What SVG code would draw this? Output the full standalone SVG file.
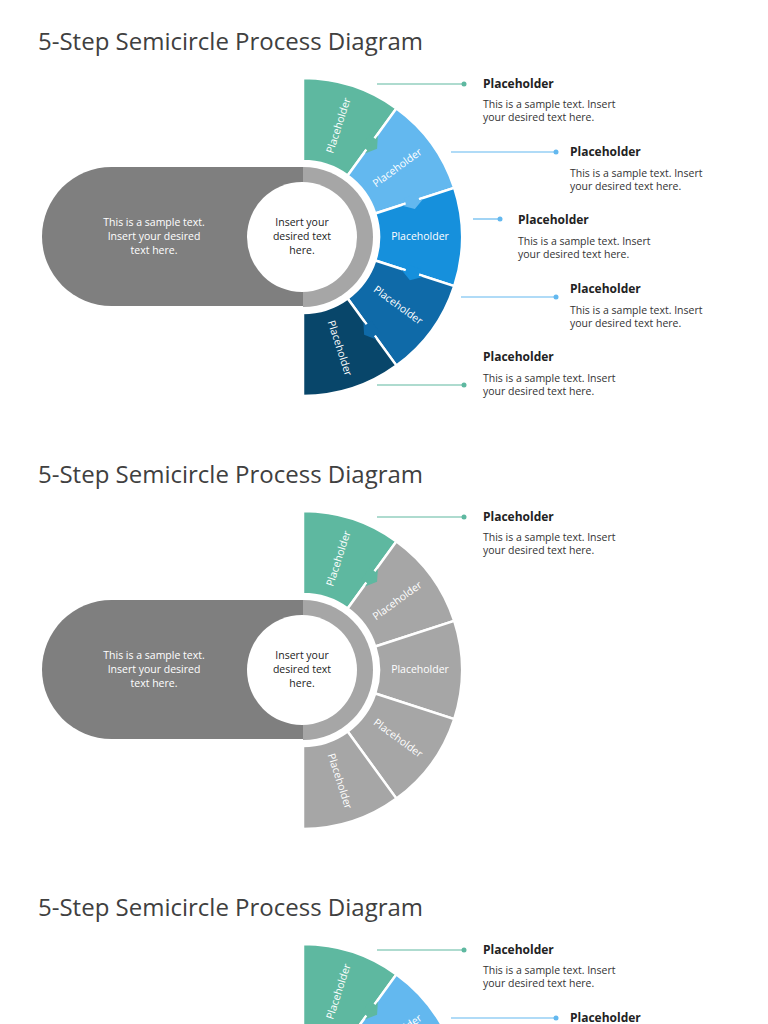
<svg xmlns="http://www.w3.org/2000/svg" xmlns:xlink="http://www.w3.org/1999/xlink" width="768" height="1024" viewBox="0 0 768 1024">
<style>
text{font-family:"Open Sans","Liberation Sans",sans-serif}
.title{font-size:24px;fill:#404040}
.seg{stroke:#fff;stroke-width:2.5}
.st{font-size:10.5px;fill:#fff;text-anchor:middle;dominant-baseline:middle}
.pt{font-size:10.5px;fill:#fff;text-anchor:middle}
.ct{font-size:10.5px;fill:#222;text-anchor:middle}
.lh{font-size:12px;font-weight:bold;fill:#222}
.ld{font-size:10.5px;fill:#333}
.ln{stroke-width:1.2;fill:none}
</style>
<defs>
<path id="s1" d="M303 161 L303 78 A159 159 0 0 1 396.46 108.37 L347.67 175.52 A76 76 0 0 0 303 161 Z"/>
<path id="s2" d="M347.67 175.52 L396.46 108.37 A159 159 0 0 1 454.22 187.87 L375.28 213.52 A76 76 0 0 0 347.67 175.52 Z"/>
<path id="s3" d="M375.28 213.52 L454.22 187.87 A159 159 0 0 1 454.22 286.13 L375.28 260.48 A76 76 0 0 0 375.28 213.52 Z"/>
<path id="s4" d="M375.28 260.48 L454.22 286.13 A159 159 0 0 1 396.46 365.63 L347.67 298.48 A76 76 0 0 0 375.28 260.48 Z"/>
<path id="s5" d="M347.67 298.48 L396.46 365.63 A159 159 0 0 1 303 396 L303 313 A76 76 0 0 0 347.67 298.48 Z"/>
<polygon id="tab" points="108,-6 122,-6 122,1 126,1 115,8 104,1 108,1"/>
<g id="hub">
<path d="M303 167 H111.5 A69.5 69.5 0 0 0 111.5 306 H303 Z" fill="#7f7f7f"/>
<path d="M303 167 A70 70 0 0 1 303 307 Z" fill="#a6a6a6"/>
<circle cx="302" cy="237" r="55" fill="#fff"/>
<text class="pt" x="154" y="226">This is a sample text.</text>
<text class="pt" x="154" y="240">Insert your desired</text>
<text class="pt" x="154" y="254">text here.</text>
<text class="ct" x="302" y="226">Insert your</text>
<text class="ct" x="302" y="240">desired text</text>
<text class="ct" x="302" y="254">here.</text>
</g>
<g id="labels">
<text class="st" transform="translate(303,237) rotate(-72) translate(117,0)">Placeholder</text>
<text class="st" transform="translate(303,237) rotate(-36) translate(117,0)">Placeholder</text>
<text class="st" transform="translate(303,237) translate(117,0)">Placeholder</text>
<text class="st" transform="translate(303,237) rotate(36) translate(117,0)">Placeholder</text>
<text class="st" transform="translate(303,237) rotate(72) translate(117,0)">Placeholder</text>
</g>
</defs>

<!-- Diagram 1 -->
<g id="diagram1">
<text class="title" x="38" y="50">5-Step Semicircle Process Diagram</text>
<g id="d1-hub"><use xlink:href="#hub"/></g>
<g id="d1-seg1"><use xlink:href="#s1" class="seg" fill="#5eb8a0"/></g>
<g id="d1-seg2"><use xlink:href="#s2" class="seg" fill="#63b8ef"/></g>
<g id="d1-seg3"><use xlink:href="#s3" class="seg" fill="#1690dc"/></g>
<g id="d1-seg4"><use xlink:href="#s4" class="seg" fill="#0f6aa8"/></g>
<g id="d1-seg5"><use xlink:href="#s5" class="seg" fill="#08466a"/></g>
<use xlink:href="#tab" fill="#5eb8a0" transform="translate(303,237) rotate(-54)"/>
<use xlink:href="#tab" fill="#63b8ef" transform="translate(303,237) rotate(-18)"/>
<use xlink:href="#tab" fill="#1690dc" transform="translate(303,237) rotate(18)"/>
<use xlink:href="#tab" fill="#0f6aa8" transform="translate(303,237) rotate(54)"/>
<use xlink:href="#labels"/>
<g id="d1-connectors">
<line class="ln" x1="377" y1="84" x2="464" y2="84" stroke="#5eb8a0"/><circle cx="464" cy="84" r="2.5" fill="#5eb8a0"/>
<line class="ln" x1="451" y1="152" x2="556" y2="152" stroke="#63b8ef"/><circle cx="556" cy="152" r="2.5" fill="#63b8ef"/>
<line class="ln" x1="473" y1="219" x2="500" y2="219" stroke="#63b8ef"/><circle cx="500" cy="219" r="2.5" fill="#63b8ef"/>
<line class="ln" x1="461" y1="297" x2="556" y2="297" stroke="#63b8ef"/><circle cx="556" cy="297" r="2.5" fill="#63b8ef"/>
<line class="ln" x1="377" y1="385" x2="464" y2="385" stroke="#5eb8a0"/><circle cx="464" cy="385" r="2.5" fill="#5eb8a0"/>
</g>
<g id="d1-t1"><text class="lh" x="483" y="88">Placeholder</text><text class="ld" x="483" y="108">This is a sample text. Insert</text><text class="ld" x="483" y="121">your desired text here.</text></g>
<g id="d1-t2"><text class="lh" x="570" y="156">Placeholder</text><text class="ld" x="570" y="177">This is a sample text. Insert</text><text class="ld" x="570" y="190">your desired text here.</text></g>
<g id="d1-t3"><text class="lh" x="518" y="224">Placeholder</text><text class="ld" x="518" y="245">This is a sample text. Insert</text><text class="ld" x="518" y="258">your desired text here.</text></g>
<g id="d1-t4"><text class="lh" x="570" y="293">Placeholder</text><text class="ld" x="570" y="314">This is a sample text. Insert</text><text class="ld" x="570" y="327">your desired text here.</text></g>
<g id="d1-t5"><text class="lh" x="483" y="361">Placeholder</text><text class="ld" x="483" y="382">This is a sample text. Insert</text><text class="ld" x="483" y="395">your desired text here.</text></g>
</g>

<!-- Diagram 2 -->
<g id="diagram2" transform="translate(0,433)">
<text class="title" x="38" y="50">5-Step Semicircle Process Diagram</text>
<g id="d2-hub"><use xlink:href="#hub"/></g>
<g id="d2-seg1"><use xlink:href="#s1" class="seg" fill="#5eb8a0"/></g>
<g id="d2-seg2"><use xlink:href="#s2" class="seg" fill="#a6a6a6"/></g>
<g id="d2-seg3"><use xlink:href="#s3" class="seg" fill="#a6a6a6"/></g>
<g id="d2-seg4"><use xlink:href="#s4" class="seg" fill="#a6a6a6"/></g>
<g id="d2-seg5"><use xlink:href="#s5" class="seg" fill="#a6a6a6"/></g>
<use xlink:href="#tab" fill="#5eb8a0" transform="translate(303,237) rotate(-54)"/>
<use xlink:href="#labels"/>
<g id="d2-connectors">
<line class="ln" x1="377" y1="84" x2="464" y2="84" stroke="#5eb8a0"/><circle cx="464" cy="84" r="2.5" fill="#5eb8a0"/>
</g>
<g id="d2-t1"><text class="lh" x="483" y="88">Placeholder</text><text class="ld" x="483" y="108">This is a sample text. Insert</text><text class="ld" x="483" y="121">your desired text here.</text></g>
</g>

<!-- Diagram 3 -->
<g id="diagram3" transform="translate(0,866)">
<text class="title" x="38" y="50">5-Step Semicircle Process Diagram</text>
<g id="d3-hub"><use xlink:href="#hub"/></g>
<g id="d3-seg1"><use xlink:href="#s1" class="seg" fill="#5eb8a0"/></g>
<g id="d3-seg2"><use xlink:href="#s2" class="seg" fill="#63b8ef"/></g>
<g id="d3-seg3"><use xlink:href="#s3" class="seg" fill="#a6a6a6"/></g>
<g id="d3-seg4"><use xlink:href="#s4" class="seg" fill="#a6a6a6"/></g>
<g id="d3-seg5"><use xlink:href="#s5" class="seg" fill="#a6a6a6"/></g>
<use xlink:href="#tab" fill="#5eb8a0" transform="translate(303,237) rotate(-54)"/>
<use xlink:href="#labels"/>
<g id="d3-connectors">
<line class="ln" x1="377" y1="84" x2="464" y2="84" stroke="#5eb8a0"/><circle cx="464" cy="84" r="2.5" fill="#5eb8a0"/>
<line class="ln" x1="451" y1="152" x2="556" y2="152" stroke="#63b8ef"/><circle cx="556" cy="152" r="2.5" fill="#63b8ef"/>
</g>
<g id="d3-t1"><text class="lh" x="483" y="88">Placeholder</text><text class="ld" x="483" y="108">This is a sample text. Insert</text><text class="ld" x="483" y="121">your desired text here.</text></g>
<g id="d3-t2"><text class="lh" x="570" y="156">Placeholder</text></g>
</g>
</svg>
